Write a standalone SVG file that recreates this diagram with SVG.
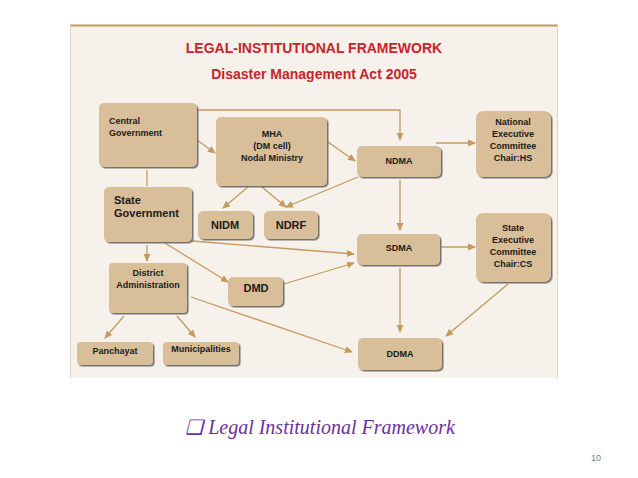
<svg xmlns="http://www.w3.org/2000/svg" width="638" height="478" viewBox="0 0 638 478">
<defs>
<marker id="ah" markerWidth="8" markerHeight="8" refX="7" refY="4" orient="auto" markerUnits="userSpaceOnUse"><path d="M0,0.5 L8,4 L0,7.5 Z" fill="#c49a5e"/></marker>
<filter id="sh" x="-10%" y="-10%" width="130%" height="130%"><feDropShadow dx="1.5" dy="1.5" stdDeviation="0.6" flood-color="#555" flood-opacity="0.8"/></filter>
</defs>
<style>
.n{fill:#d9bf99;filter:url(#sh)}
.t{font-family:"Liberation Sans",Arial,sans-serif;font-weight:bold;font-size:9px;fill:#1a1a1a}
.b{font-size:11px}
.c{fill:none;stroke:#c49a5e;stroke-width:1.3;marker-end:url(#ah)}
</style>
<rect width="638" height="478" fill="#fff"/>
<rect x="70" y="25" width="488" height="353" fill="#f6f1ea"/>
<line x1="70" y1="25.5" x2="558" y2="25.5" stroke="#c49a5e" stroke-width="2"/>
<line x1="70.5" y1="25" x2="70.5" y2="378" stroke="#e5d6bf" stroke-width="1"/>
<line x1="557.5" y1="25" x2="557.5" y2="378" stroke="#e5d6bf" stroke-width="1"/>
<text x="314" y="53" text-anchor="middle" font-family="Liberation Sans,Arial,sans-serif" font-weight="bold" font-size="14" fill="#c8242b">LEGAL-INSTITUTIONAL FRAMEWORK</text>
<text x="314" y="79" text-anchor="middle" font-family="Liberation Sans,Arial,sans-serif" font-weight="bold" font-size="14" fill="#c8242b">Disaster Management Act 2005</text>
<g id="connectors">
<path class="c" d="M197,110 H400 V140"/>
<path class="c" d="M197,140 L215,153"/>
<path class="c" d="M328,142 L355,161"/>
<path class="c" d="M358,177 L286,207"/>
<path class="c" d="M248,187 L223,208"/>
<path class="c" d="M262,187 L286,207"/>
<path d="M147,170 V186" stroke="#c49a5e" stroke-width="1.3"/>
<path class="c" d="M400,180 V230"/>
<path class="c" d="M436,143 H475"/>
<path class="c" d="M441,247 H475"/>
<path class="c" d="M192,241 L354,254"/>
<path class="c" d="M165,243 L228,282"/>
<path class="c" d="M147,245 V261"/>
<path class="c" d="M284,284 L354,263"/>
<path class="c" d="M191,297 L352,352"/>
<path class="c" d="M400,268 V332"/>
<path class="c" d="M508,284 L446,336"/>
<path class="c" d="M124,316 L105,338"/>
<path class="c" d="M177,316 L195,337"/>
</g>
<g id="central"><rect class="n" x="99" y="103" width="98" height="64" rx="5"/><text class="t" x="109" y="124">Central</text><text class="t" x="109" y="136">Government</text></g>
<g id="mha"><rect class="n" x="216" y="117" width="111" height="69" rx="5"/><text class="t" text-anchor="middle" x="272" y="137">MHA</text><text class="t" text-anchor="middle" x="272" y="149">(DM cell)</text><text class="t" text-anchor="middle" x="272" y="161">Nodal Ministry</text></g>
<g id="ndma"><rect class="n" x="357" y="146" width="84" height="31" rx="5"/><text class="t" text-anchor="middle" x="399" y="164">NDMA</text></g>
<g id="nec"><rect class="n" x="476" y="111" width="75" height="66" rx="7"/><text class="t" text-anchor="middle" x="513" y="125">National</text><text class="t" text-anchor="middle" x="513" y="137">Executive</text><text class="t" text-anchor="middle" x="513" y="149">Committee</text><text class="t" text-anchor="middle" x="513" y="161">Chair:HS</text></g>
<g id="state"><rect class="n" x="104" y="187" width="88" height="55" rx="5"/><text class="t b" x="114" y="204">State</text><text class="t b" x="114" y="217">Government</text></g>
<g id="nidm"><rect class="n" x="198" y="211" width="55" height="28" rx="5"/><text class="t b" text-anchor="middle" x="225" y="229">NIDM</text></g>
<g id="ndrf"><rect class="n" x="264" y="211" width="54" height="28" rx="5"/><text class="t b" text-anchor="middle" x="291" y="229">NDRF</text></g>
<g id="sdma"><rect class="n" x="357" y="234" width="83" height="31" rx="5"/><text class="t" text-anchor="middle" x="399" y="251">SDMA</text></g>
<g id="sec"><rect class="n" x="476" y="213" width="75" height="69" rx="7"/><text class="t" text-anchor="middle" x="513" y="231">State</text><text class="t" text-anchor="middle" x="513" y="243">Executive</text><text class="t" text-anchor="middle" x="513" y="255">Committee</text><text class="t" text-anchor="middle" x="513" y="267">Chair:CS</text></g>
<g id="district"><rect class="n" x="109" y="263" width="78" height="50" rx="4"/><text class="t" text-anchor="middle" x="148" y="276">District</text><text class="t" text-anchor="middle" x="148" y="288">Administration</text></g>
<g id="dmd"><rect class="n" x="228" y="277" width="55" height="29" rx="5"/><text class="t b" text-anchor="middle" x="256" y="292">DMD</text></g>
<g id="panchayat"><rect class="n" x="77" y="342" width="76" height="23" rx="4"/><text class="t" text-anchor="middle" x="115" y="354">Panchayat</text></g>
<g id="municipalities"><rect class="n" x="163" y="342" width="76" height="23" rx="4"/><text class="t" text-anchor="middle" x="201" y="352">Municipalities</text></g>
<g id="ddma"><rect class="n" x="358" y="338" width="84" height="32" rx="5"/><text class="t" text-anchor="middle" x="400" y="357">DDMA</text></g>
<text x="320" y="434" text-anchor="middle" font-family="Liberation Serif,serif" font-style="italic" font-size="20" fill="#6b2fa0">❑ Legal Institutional Framework</text>
<text x="596" y="461" text-anchor="middle" font-family="Liberation Sans,Arial,sans-serif" font-size="9" fill="#777">10</text>
</svg>
